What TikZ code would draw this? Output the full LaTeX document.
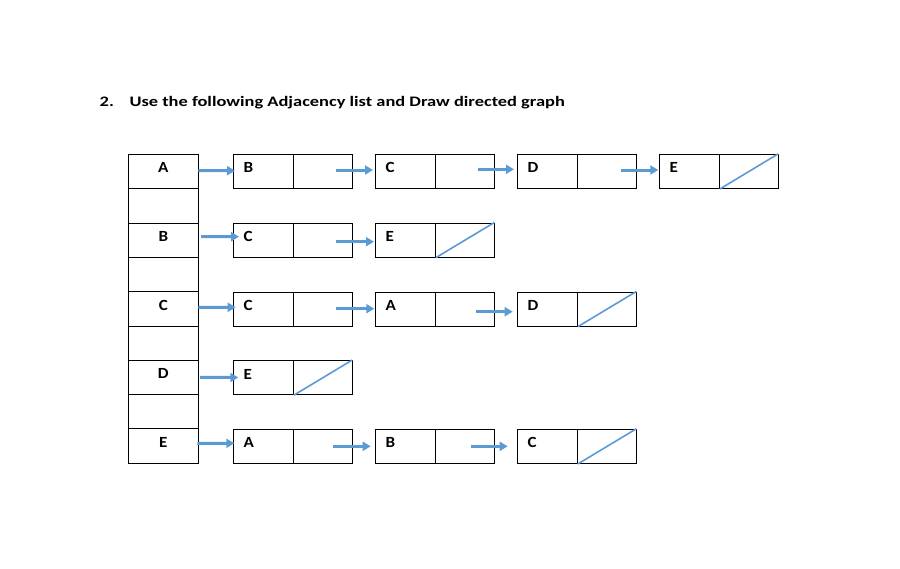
\documentclass[tikz,border=0pt]{standalone}
\usepackage{fontspec}
\setmainfont{Carlito}
\newfontfamily\titlefont[FakeStretch=1.27]{Carlito}
\newfontfamily\lblfont[FakeStretch=1.1]{Carlito}
\usetikzlibrary{arrows.meta,calc}
\definecolor{arrblue}{RGB}{91,155,213}
\newcommand\lnode[4]{%
  \node[cellL] (#1l) at (#2,#3) {};
  \node[cellR] (#1r) at (#2+60,#3) {};
  \node[lbl] (#1t) at (#2+10,#3+18.5) {#4};}
\begin{document}
\begin{tikzpicture}[x=1pt,y=-1pt,
  cellL/.style={draw=black, line width=0.9pt, minimum width=60pt, minimum height=34pt,
    inner sep=0pt, outer sep=0pt, anchor=north west},
  cellR/.style={cellL, minimum width=59pt},
  colcell/.style={cellL, minimum width=70pt, minimum height=34.33pt},
  lbl/.style={font=\lblfont\bfseries\fontsize{15.5}{17}\selectfont, inner sep=0pt, anchor=base west},
  clbl/.style={lbl, anchor=base},
  ttl/.style={font=\titlefont\bfseries\fontsize{14.5}{16}\selectfont, inner sep=0pt, anchor=base west},
  arr/.style={draw=arrblue, line width=3pt, -{Triangle[length=8pt,width=9pt]}},
  nil/.style={draw=arrblue, line width=1.6pt}]
\useasboundingbox (0,0) rectangle (900,568);
% title
\node[ttl] (num) at (99.5,106.3) {2.};
\node[ttl] (title) at (129.3,106.3) {Use the following Adjacency list and Draw directed graph};
% left column
\foreach \i in {1,...,9} {\node[colcell] (c\i) at (128.3,{154.3+34.33*(\i-1)}) {};}
\node[clbl] (cl1) at ($(c1.north)+(0,18.5)$) {A};
\node[clbl] (cl3) at ($(c3.north)+(0,18.5)$) {B};
\node[clbl] (cl5) at ($(c5.north)+(0,18.5)$) {C};
\node[clbl] (cl7) at ($(c7.north)+(0,18.5)$) {D};
\node[clbl] (cl9) at ($(c9.north)+(0,18.5)$) {E};
% list nodes
\lnode{A1}{233.3}{154.3}{B}
\lnode{A2}{375.3}{154.3}{C}
\lnode{A3}{517.3}{154.3}{D}
\lnode{A4}{659.3}{154.3}{E}
\lnode{B1}{233.3}{223}{C}
\lnode{B2}{375.3}{223}{E}
\lnode{C1}{233.3}{292}{C}
\lnode{C2}{375.3}{292}{A}
\lnode{C3}{517.3}{292}{D}
\lnode{D1}{233.3}{360.5}{E}
\lnode{E1}{233.3}{429.3}{A}
\lnode{E2}{375.3}{429.3}{B}
\lnode{E3}{517.3}{429.3}{C}
% null slashes
\foreach \n in {A4r,B2r,C3r,D1r,E3r}
  {\draw[nil] ($(\n.south west)+(0.5,0.7)$) -- ($(\n.north east)+(0,-0.5)$);}
% arrows row A
\draw[arr] ($(c1.east)+(0,-0.8)$) -- ($(A1l.west)+(1.7,-0.6)$);
\draw[arr] ($(A1r.east)+(-16.3,-1.3)$) -- ($(A2l.west)+(-2.3,-1.3)$);
\draw[arr] ($(A2r.east)+(-16.3,-2)$) -- ($(A3l.west)+(-3.3,-2)$);
\draw[arr] ($(A3r.east)+(-15,-1.3)$) -- ($(A4l.west)+(-1,-1.3)$);
% row B
\draw[arr] ($(c3.east)+(2.7,-3.4)$) -- ($(B1l.west)+(5.7,-3.3)$);
\draw[arr] ($(B1r.east)+(-16.3,1.7)$) -- ($(B2l.west)+(-1.3,1.7)$);
% row C
\draw[arr] ($(c5.east)+(0,-1.5)$) -- ($(C1l.west)+(2.4,-1.7)$);
\draw[arr] ($(C1r.east)+(-16.3,-0.3)$) -- ($(C2l.west)+(-1,-0.3)$);
\draw[arr] ($(C2r.east)+(-18,2.7)$) -- ($(C3l.west)+(-4.6,2.7)$);
% row D
\draw[arr] ($(c7.east)+(1.7,0)$) -- ($(D1l.west)+(5,0)$);
% row E
\draw[arr] ($(c9.east)+(-1,-2.8)$) -- ($(E1l.west)+(1,-3)$);
\draw[arr] ($(E1r.east)+(-19,0)$) -- ($(E2l.west)+(-4.6,0)$);
\draw[arr] ($(E2r.east)+(-23.3,0)$) -- ($(E3l.west)+(-9.6,0)$);
\end{tikzpicture}
\end{document}
